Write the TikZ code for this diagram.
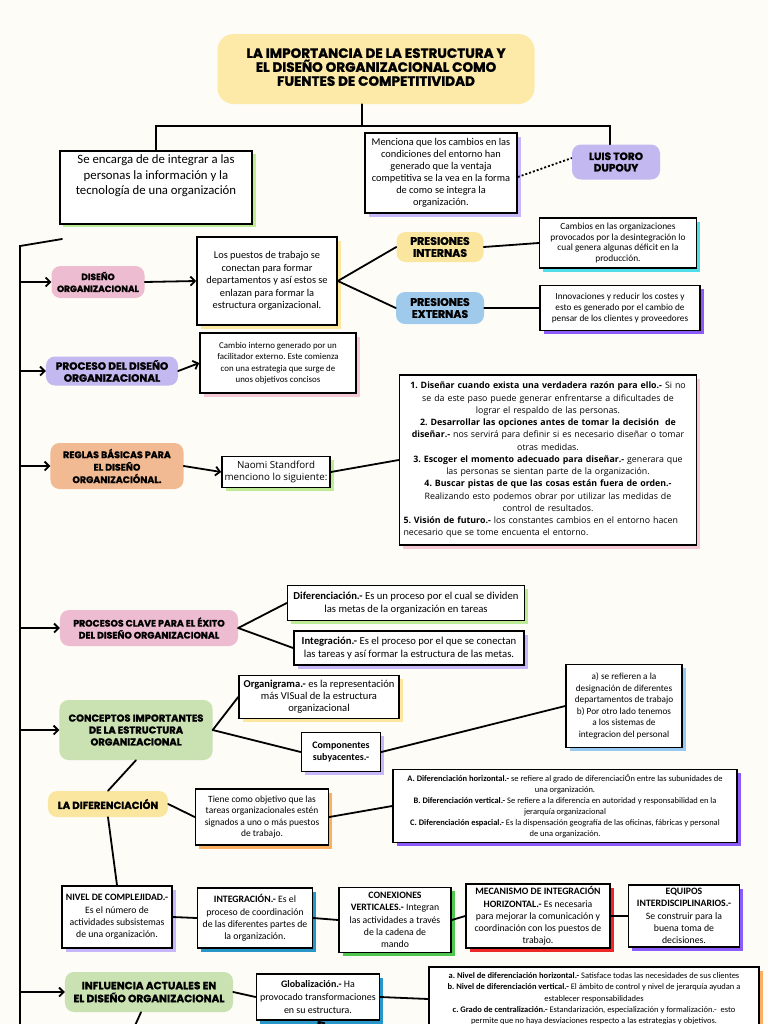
\documentclass[tikz,border=0pt]{standalone}
\usepackage{fontspec}
\setmainfont{Carlito}
\newfontfamily\headfont{Poppins}[BoldFeatures={FakeBold=1.4}]
\newfontfamily\rulefont{Open Sans}
\frenchspacing
\usetikzlibrary{arrows.meta,shadows}
\definecolor{paper}{RGB}{253,252,247}
\definecolor{titleyellow}{RGB}{253,234,168}
\definecolor{blobpink}{RGB}{238,188,208}
\definecolor{blobpurple}{RGB}{196,184,240}
\definecolor{blobyellow}{RGB}{251,230,160}
\definecolor{blobblue}{RGB}{160,202,236}
\definecolor{bloborange}{RGB}{241,186,146}
\definecolor{blobgreen}{RGB}{202,226,178}
\definecolor{shgreen}{RGB}{190,235,150}
\definecolor{shpurple}{RGB}{200,182,250}
\definecolor{shcyan}{RGB}{80,222,232}
\definecolor{shviolet}{RGB}{140,92,250}
\definecolor{shpink}{RGB}{245,200,216}
\definecolor{shyellow}{RGB}{252,230,160}
\definecolor{shblue}{RGB}{150,200,240}
\definecolor{shorange}{RGB}{250,176,96}
\definecolor{shteal}{RGB}{40,150,200}
\definecolor{shlime}{RGB}{80,200,80}
\definecolor{shred}{RGB}{238,40,40}
\newcommand{\fs}[2]{\fontsize{#1}{#2}\selectfont}
\tikzset{
  card/.style={draw=black, line width=1.6bp, fill=white, inner sep=0pt, align=center,
    drop shadow={fill=#1, opacity=1, shadow xshift=3.5bp, shadow yshift=-3.5bp}},
  blob/.style={fill=#1, rounded corners=9bp, inner sep=0pt, align=center,
    font=\headfont\bfseries\fs{9}{12}},
  linkline/.style={line width=1.8bp, line cap=round},
  arrowline/.style={linkline, -{Straight Barb[length=4.5bp, width=9bp]}},
}
\begin{document}
\begin{tikzpicture}[x=1bp, y=-1bp]
% fondo
\fill[paper] (0,0) rectangle (768,1024);
\useasboundingbox (0,0) rectangle (768,1024);

% titulo
\node[blob=titleyellow, rounded corners=16bp, minimum width=317bp, minimum height=70bp,
  font=\headfont\bfseries\fs{13.6}{14}] (title) at (376,69)
  {LA IMPORTANCIA DE LA ESTRUCTURA Y\\EL DISEÑO ORGANIZACIONAL COMO\\FUENTES DE COMPETITIVIDAD\\[-10bp]};
\coordinate (split) at (362,126);

% fila superior
\node[card=shgreen, minimum width=192bp, anchor=north,
  font=\fs{12.8}{15.5}, inner ysep=4bp] (encarga) at (156,150)
  {Se encarga de de integrar a las\\personas la información y la\\tecnología de una organización\\[10bp]};
\node[card=shpurple, minimum width=152bp, minimum height=80bp, font=\fs{10.4}{12}] (menciona) at (441,173)
  {Menciona que los cambios en las\\condiciones del entorno han\\generado que la ventaja\\competitiva se la vea en la forma\\de como se integra la\\organización.};
\node[blob=blobpurple, minimum width=88bp, minimum height=35bp, font=\headfont\bfseries\fs{10.6}{11.5}] (luis) at (616,162)
  {LUIS TORO\\DUPOUY};

\draw[linkline] (split) -- (split |- title.south);
\draw[linkline] (encarga.north) |- (split) -| ([xshift=-6bp]luis.north);
\draw[linkline, dash pattern=on 2bp off 2bp, line cap=butt] ([yshift=-4bp]menciona.east) -- ([yshift=4bp]luis.west);

% tronco izquierdo
\coordinate (trunktop) at (20,246);
\coordinate (trunkend) at (20,1024);
\coordinate (encargalead) at (62,239);
\draw[linkline] (encargalead) -- (trunktop) -- (trunkend);

% 1. diseno organizacional
\node[blob=blobpink, minimum width=93bp, minimum height=32bp, font=\headfont\bfseries\fs{9}{12}] (diseno) at (98,282)
  {DISEÑO\\ORGANIZACIONAL};
\node[card=shyellow, minimum width=140bp, minimum height=88bp, font=\fs{10.4}{12.5}] (puestos) at (267,281)
  {Los puestos de trabajo se\\conectan para formar\\departamentos y así estos se\\enlazan para formar la\\estructura organizacional.};
\node[blob=blobyellow, minimum width=87bp, minimum height=30bp, font=\headfont\bfseries\fs{11}{12}] (internas) at (440,247)
  {PRESIONES\\INTERNAS};
\node[blob=blobblue, minimum width=88bp, minimum height=32bp, font=\headfont\bfseries\fs{11}{12}] (externas) at (440,308)
  {PRESIONES\\EXTERNAS};
\node[card=shcyan, minimum width=157bp, minimum height=50bp, font=\fs{9.4}{11}] (cambios) at (618,243)
  {Cambios en las organizaciones\\provocados por la desintegración lo\\cual genera algunas déficit en la\\producción.};
\node[card=shviolet, minimum width=160bp, minimum height=45bp, font=\fs{9.3}{11.5}] (innov) at (620,308)
  {Innovaciones y reducir los costes y\\esto es generado por el cambio de\\pensar de los clientes y proveedores};
\draw[arrowline] (diseno.west -| trunktop) -- (diseno.west);
\draw[arrowline] (diseno.east) -- (puestos.west);
\draw[linkline] (puestos.east) -- (internas.west);
\draw[linkline] (puestos.east) -- (externas.west);
\draw[linkline] (internas.east) -- (cambios.west);
\draw[linkline] (externas.east) -- (innov.west);

% 2. proceso del diseno
\node[blob=blobpurple, minimum width=132bp, minimum height=29bp, font=\headfont\bfseries\fs{10.6}{12}] (proceso) at (112,371)
  {PROCESO DEL DISEÑO\\ORGANIZACIONAL};
\node[card=shpink, minimum width=156bp, minimum height=60bp, font=\fs{8.9}{11.5}] (interno) at (278,363)
  {Cambio interno generado por un\\facilitador externo. Este comienza\\con una estrategia que surge de\\unos objetivos concisos};
\draw[arrowline] (proceso.west -| trunktop) -- (proceso.west);
\draw[arrowline] (proceso.east) -- (interno.west);

% 3. reglas basicas
\node[blob=bloborange, minimum width=133bp, minimum height=46bp, font=\headfont\bfseries\fs{9.5}{12.5}] (reglas) at (117,466)
  {REGLAS BÁSICAS PARA\\EL DISEÑO\\ORGANIZACIÓNAL.};
\node[card=shgreen, minimum width=108bp, minimum height=31bp, font=\rulefont\fs{9.8}{12}] (naomi) at (276,472)
  {Naomi Standford\\menciono lo siguiente:};
\node[card=shpink, minimum width=297bp, minimum height=170bp, text width=289bp, font=\rulefont\fs{8.85}{12.3}] (rules) at (548,460)
  {\textbf{1. Diseñar cuando exista una verdadera razón para ello.-} Si no\\
   se da este paso puede generar enfrentarse a dificultades de\\
   lograr el respaldo de las personas.\\
   \textbf{2. Desarrollar las opciones antes de tomar la decisión\ \ de}\\
   \textbf{diseñar.-} nos servirá para definir si es necesario diseñar o tomar\\
   otras medidas.\\
   \textbf{3. Escoger el momento adecuado para diseñar.-} generara que\\
   las personas se sientan parte de la organización.\\
   \textbf{4. Buscar pistas de que las cosas están fuera de orden.-}\\
   Realizando esto podemos obrar por utilizar las medidas de\\
   control de resultados.\\
   \makebox[289bp][l]{\textbf{5. Visión de futuro.-} los constantes cambios en el entorno hacen}\\
   \makebox[289bp][l]{necesario que se tome encuenta el entorno.}};
\draw[arrowline] (reglas.west -| trunktop) -- (reglas.west);
\draw[arrowline] (reglas.east) -- (naomi.west);
\draw[linkline] (naomi.east) -- (rules.west);

% 4. procesos clave
\node[blob=blobpink, minimum width=178bp, minimum height=36bp, font=\headfont\bfseries\fs{9.4}{12}] (procesos) at (149,628)
  {PROCESOS CLAVE PARA EL ÉXITO\\DEL DISEÑO ORGANIZACIONAL};
\node[card=shgreen, minimum width=237bp, minimum height=35bp, font=\fs{10.7}{13}] (difer) at (406,603)
  {\textbf{Diferenciación.-} Es un proceso por el cual se dividen\\las metas de la organización en tareas};
\node[card=shpurple, minimum width=230bp, minimum height=34bp, font=\fs{10.7}{13}] (integ) at (409,648)
  {\textbf{Integración.-} Es el proceso por el que se conectan\\las tareas y así formar la estructura de las metas.};
\draw[arrowline] (procesos.west -| trunktop) -- (procesos.west);
\draw[linkline] (procesos.east) -- (difer.west);
\draw[linkline] (procesos.east) -- (integ.west);

% 5. conceptos importantes
\node[blob=blobgreen, minimum width=153bp, minimum height=60bp, font=\headfont\bfseries\fs{10}{12}] (conceptos) at (136,730)
  {CONCEPTOS IMPORTANTES\\DE LA ESTRUCTURA\\ORGANIZACIONAL};
\node[card=shyellow, minimum width=160bp, minimum height=43bp, font=\fs{10.6}{12}] (organi) at (319,697)
  {\textbf{Organigrama.-} es la representación\\más VISual de la estructura\\organizacional};
\node[card=shpurple, minimum width=79bp, minimum height=39bp, font=\bfseries\fs{10}{13}] (compo) at (341,752)
  {Componentes\\subyacentes.-};
\node[card=shblue, minimum width=116bp, minimum height=83bp, font=\fs{9.3}{11.6}] (ab) at (624,706)
  {a) se refieren a la\\designación de diferentes\\departamentos de trabajo\\b) Por otro lado tenemos\\a los sistemas de\\integracion del personal};
\draw[arrowline] (conceptos.west -| trunktop) -- (conceptos.west);
\draw[linkline] (conceptos.east) -- (organi.west);
\draw[linkline] (conceptos.east) -- (compo.west);
\draw[linkline] (compo.east) -- (ab.west);

% 6. la diferenciacion
\node[blob=blobyellow, minimum width=120bp, minimum height=26bp, font=\headfont\bfseries\fs{10.2}{11}] (diferen) at (108,804)
  {LA DIFERENCIACIÓN};
\node[card=shorange, minimum width=133bp, minimum height=56bp, font=\fs{9.5}{11.5}] (objetivo) at (262,817)
  {Tiene como objetivo que las\\tareas organizacionales estén\\signados a uno o más puestos\\de trabajo.};
\node[card=shviolet, minimum width=344bp, minimum height=73bp, font=\fs{8.5}{11}] (abc) at (565,806)
  {\textbf{A. Diferenciación horizontal.-} se refiere al grado de diferenciaciÓn entre las subunidades de\\una organización.\\
   \textbf{B. Diferenciación vertical.-} Se refiere a la diferencia en autoridad y responsabilidad en la\\jerarquía organizacional\\
   \textbf{C. Diferenciación espacial.-} Es la dispensación geografía de las oficinas, fábricas y personal\\de una organización.};
\draw[linkline] (conceptos.south) -- (diferen.north);
\draw[linkline] (diferen.east) -- (objetivo.west);
\draw[linkline] (objetivo.east) -- (abc.west);

% 7. fila de integracion
\node[card=shpurple, minimum width=110bp, minimum height=62bp, font=\fs{9.8}{12.3}] (nivel) at (117,917)
  {\textbf{NIVEL DE COMPLEJIDAD.-}\\Es el número de\\actividades subsistemas\\de una organización.};
\node[card=shteal, minimum width=115bp, minimum height=60bp, font=\fs{9.8}{12.3}] (integr) at (255,918)
  {\textbf{INTEGRACIÓN.-} Es el\\proceso de coordinación\\de las diferentes partes de\\la organización.};
\node[card=shlime, minimum width=112bp, minimum height=65bp, font=\fs{9.8}{12.3}] (conex) at (395,920)
  {\textbf{CONEXIONES}\\\textbf{VERTICALES.-} Integran\\las actividades a través\\de la cadena de\\mando};
\node[card=shred, minimum width=144bp, minimum height=64bp, font=\fs{9.8}{12.3}] (mecan) at (538,916)
  {\textbf{MECANISMO DE INTEGRACIÓN}\\\textbf{HORIZONTAL.-} Es necesaria\\para mejorar la comunicación y\\coordinación con los puestos de\\trabajo.};
\node[card=shviolet, minimum width=111bp, minimum height=62bp, font=\fs{9.8}{12.3}] (equipos) at (684,916)
  {\textbf{EQUIPOS}\\\textbf{INTERDISCIPLINARIOS.-}\\Se construir para la\\buena toma de\\decisiones.};
\draw[linkline] (diferen.south) -- (nivel.north);
\draw[linkline] (nivel.east) -- (integr.west);
\draw[linkline] (integr.east) -- (conex.west);
\draw[linkline] (conex.east) -- (mecan.west);
\draw[linkline] (mecan.east) -- (equipos.west);

% 8. influencia actuales
\node[blob=blobgreen, minimum width=168bp, minimum height=40bp, font=\headfont\bfseries\fs{10.6}{13}] (influ) at (149,992)
  {INFLUENCIA ACTUALES EN\\EL DISEÑO ORGANIZACIONAL};
\node[card=shteal, minimum width=123bp, minimum height=46bp, font=\fs{10}{13}] (glob) at (318,997)
  {\textbf{Globalización.-} Ha\\provocado transformaciones\\en su estructura.};
\node[card=shorange, minimum width=330bp, minimum height=64bp, font=\fs{8.5}{11.3}] (abcdos) at (594,999)
  {\textbf{a. Nivel de diferenciación horizontal.-} Satisface todas las necesidades de sus clientes\\
   \textbf{b. Nivel de diferenciación vertical.-} El ámbito de control y nivel de jerarquía ayudan a\\
   establecer responsabilidades\\
   \textbf{c. Grado de centralización.-} Estandarización, especialización y formalización.-\ \ esto\\
   permite que no haya desviaciones respecto a las estrategias y objetivos.};
\coordinate (influstub) at (133,1030);
\coordinate (globstub) at (330,1040);
\draw[arrowline] (influ.west -| trunktop) -- (influ.west);
\draw[linkline] (influ.east) -- (glob.west);
\draw[linkline] (glob.east) -- (abcdos.west);
\draw[linkline] ([xshift=-8bp]influ.south) -- (influstub);
\draw[arrowline] (globstub) -- (glob.south);
\end{tikzpicture}
\end{document}
